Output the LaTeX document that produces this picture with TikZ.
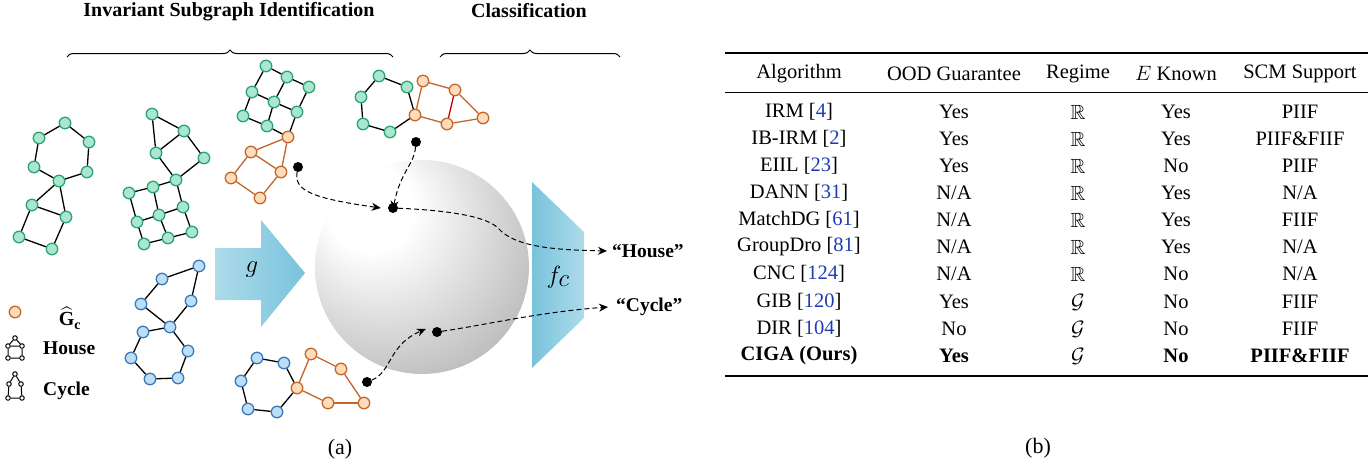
\documentclass[tikz,border=0pt]{standalone}
\usepackage{amssymb}
\usepackage{fontspec}
\setmainfont{Liberation Serif}
\usetikzlibrary{decorations.pathreplacing,arrows.meta}
\definecolor{gfill}{RGB}{170,232,205}\definecolor{gdraw}{RGB}{40,160,120}
\definecolor{ofill}{RGB}{253,220,185}\definecolor{odraw}{RGB}{195,100,40}
\definecolor{bfill}{RGB}{190,222,245}\definecolor{bdraw}{RGB}{55,120,185}
\definecolor{arr}{RGB}{120,195,220}\definecolor{cite}{RGB}{30,60,180}
\pgfdeclareradialshading{mysph}{\pgfpoint{-14bp}{16bp}}{color(0bp)=(white); color(10bp)=(white); color(35bp)=(black!25); color(58bp)=(black!70); color(70bp)=(black!70)}
\tikzset{
 gv/.style={circle,inner sep=0,minimum size=11.5,line width=1.3,draw=gdraw,fill=gfill},
 ov/.style={gv,draw=odraw,fill=ofill},
 bv/.style={gv,draw=bdraw,fill=bfill},
 ge/.style={line width=1.3,black},
 oe/.style={line width=1.3,odraw},
 dot/.style={circle,fill=black,inner sep=0,minimum size=10},
 da/.style={line width=1,-{Stealth[length=9,width=8]},dash pattern=on 5pt off 3pt},
 tx/.style={font=\fontsize{20.5}{23}\selectfont,inner sep=0},
 tb/.style={font=\fontsize{20.5}{23}\selectfont\bfseries,inner sep=0},
 bl/.style={font=\fontsize{19.5}{22}\selectfont\bfseries,inner sep=0},
 iv/.style={circle,draw,line width=1,inner sep=0,minimum size=4.5,fill=white}
}
\begin{document}
\begin{tikzpicture}[x=1pt,y=-1pt]
\useasboundingbox (0,0) rectangle (1370,463);
% titles and braces
\node[inner sep=0,font=\fontsize{20}{22}\selectfont\bfseries] (t1) at (229,12) {Invariant Subgraph Identification};
\node[inner sep=0,font=\fontsize{20}{22}\selectfont\bfseries] (t2) at (529,11) {Classification};
\draw[line width=1,decorate,decoration={brace,amplitude=7}] (67,57) -- (393,57);
\draw[line width=1,decorate,decoration={brace,amplitude=7}] (440,57) -- (620,57);
% sphere
\node[circle,minimum size=214,shading=mysph] (sph) at (422,267) {};
% g arrow
\shade[left color=arr!60,right color=arr] (215,248) -- (261,248) -- (261,220) -- (305,273) -- (261,327) -- (261,300) -- (215,300) -- cycle;
\node[inner sep=0] (g) at (252,270) {\fontsize{40}{44}\selectfont$g$};
% fc
\shade[left color=arr,right color=arr!60] (532,182) -- (584,232) -- (584,318) -- (532,368) -- cycle;
\node[inner sep=0] (fc) at (558,277) {\fontsize{40}{44}\selectfont$f_c$};
% graph 1
\foreach \n/\p in {a1/{65,123},a2/{39,138},a3/{89,142},a4/{34,167},a5/{87,172},a6/{59,181},a7/{32,205},a8/{66,217},a9/{19,237},a10/{52,249}}
  \node[gv] (\n) at (\p) {};
\foreach \a/\b in {a1/a2,a1/a3,a2/a4,a3/a5,a4/a6,a5/a6,a6/a7,a6/a8,a7/a8,a7/a9,a9/a10,a10/a8}
  \draw[ge] (\a) -- (\b);
% graph 2
\foreach \n/\p in {b1/{152,114},b2/{184,131},b3/{156,153},b4/{204,158},b5/{176,180},b6/{153,187},b7/{129,193},b8/{183,207},b9/{159,215},b10/{137,222},b11/{192,232},b12/{168,238},b13/{144,244}}
  \node[gv] (\n) at (\p) {};
\foreach \a/\b in {b1/b2,b1/b3,b2/b3,b2/b4,b3/b5,b4/b5,b5/b6,b6/b7,b5/b8,b6/b9,b7/b10,b8/b9,b9/b10,b8/b11,b9/b12,b10/b13,b11/b12,b12/b13}
  \draw[ge] (\a) -- (\b);
% graph 3
\foreach \n/\p in {c1/{266,66},c2/{287,77},c3/{309,87},c4/{252,92},c5/{274,102},c6/{297,112},c7/{243,116},c8/{267,126}}
  \node[gv] (\n) at (\p) {};
\foreach \n/\p in {o1/{288,137},o2/{251,152},o3/{281,172},o4/{231,178},o5/{260,198}}
  \node[ov] (\n) at (\p) {};
\foreach \a/\b in {c1/c2,c2/c3,c1/c4,c2/c5,c3/c6,c4/c5,c5/c6,c4/c7,c5/c8,c6/o1,c7/c8,c8/o1}
  \draw[ge] (\a) -- (\b);
\foreach \a/\b in {o1/o2,o1/o3,o2/o3,o2/o4,o4/o5,o5/o3}
  \draw[oe] (\a) -- (\b);
% graph 4
\foreach \n/\p in {h1/{379,76},h2/{407,87},h3/{361,97},h4/{363,124},h5/{390,132}}
  \node[gv] (\n) at (\p) {};
\foreach \n/\p in {p1/{415,115},p2/{423,81},p3/{455,90},p4/{447,124},p5/{483,118}}
  \node[ov] (\n) at (\p) {};
\foreach \a/\b in {h1/h2,h1/h3,h3/h4,h4/h5,h5/p1,h2/p1}
  \draw[ge] (\a) -- (\b);
\foreach \a/\b in {p1/p2,p2/p3,p4/p1,p3/p5,p5/p4}
  \draw[oe] (\a) -- (\b);
\draw[line width=1.3,red!75!black] (p3) -- (p4);
% blue graph
\foreach \n/\p in {q1/{199,266},q2/{162,279},q3/{191,301},q4/{141,304},q5/{170,327},q6/{143,332},q7/{188,351},q8/{131,358},q9/{178,378},q10/{150,379}}
  \node[bv] (\n) at (\p) {};
\foreach \a/\b in {q1/q2,q2/q4,q4/q5,q1/q3,q3/q5,q5/q6,q6/q8,q8/q10,q10/q9,q9/q7,q7/q5}
  \draw[ge] (\a) -- (\b);
% bottom graph
\foreach \n/\p in {r1/{257,358},r2/{284,363},r3/{241,381},r4/{248,409},r5/{277,412}}
  \node[bv] (\n) at (\p) {};
\foreach \n/\p in {s1/{297,388},s2/{311,354},s3/{341,369},s4/{328,403},s5/{364,403}}
  \node[ov] (\n) at (\p) {};
\foreach \a/\b in {r1/r2,r1/r3,r3/r4,r4/r5,r5/s1,r2/s1}
  \draw[ge] (\a) -- (\b);
\foreach \a/\b in {s1/s2,s2/s3,s3/s5,s5/s4,s4/s1}
  \draw[oe] (\a) -- (\b);
% dots and dashed arrows
\node[dot] (d1) at (298,167) {};
\node[dot] (d2) at (416,142) {};
\node[dot] (d4) at (367,382) {};
\node[dot] (e1) at (393,208) {};
\node[dot] (e2) at (437,332) {};
\node[bl,anchor=west] (house) at (612,251) {“House”};
\node[bl,anchor=west] (cyc) at (616,307) {“Cycle”};
\draw[da] (d1) .. controls (294,190) and (310,198) .. ([xshift=-7]e1.west);
\draw[da] (d2) .. controls (414,165) and (400,172) .. ([yshift=-7]e1.north);
\draw[da] (e1) .. controls (440,210) and (485,215) .. (498,228) .. controls (515,248) and (560,250) .. ([xshift=-5]house.west);
\draw[da] (d4) .. controls (392,372) and (388,345) .. ([xshift=-6,yshift=3]e2.west);
\draw[da] (e2) .. controls (485,325) and (540,312) .. ([xshift=-8]cyc.west);
% legend
\node[ov] (lo) at (15,312) {};
\node[inner sep=0] (lg) at (70,318) {\fontsize{20}{22}\selectfont$\widehat{\mathbf{G}}_{\mathbf{c}}$};
\node[iv] (h1a) at (15,338) {};\node[iv] (h2a) at (8,346) {};\node[iv] (h3a) at (22,346) {};
\node[iv] (h4a) at (8,358) {};\node[iv] (h5a) at (22,358) {};
\draw[line width=1] (h1a)--(h2a)--(h3a)--(h1a) (h2a)--(h4a)--(h5a)--(h3a);
\node[iv] (k1) at (15,374) {};\node[iv] (k2) at (9,384) {};\node[iv] (k3) at (21,384) {};
\node[iv] (k4) at (8,398) {};\node[iv] (k5) at (22,398) {};
\draw[line width=1] (k1)--(k2)--(k4)--(k5)--(k3)--(k1);
\node[bl,anchor=west] (lh) at (43,348) {House};
\node[bl,anchor=west] (lc) at (43,391) {Cycle};
\node[inner sep=0] (la) at (340,449) {\fontsize{22}{24}\selectfont(a)};
\node[inner sep=0] (lb) at (1038,448) {\fontsize{22}{24}\selectfont(b)};
% table
\draw[line width=1.3] (725,53) -- (1368,53);
\draw[line width=0.8] (725,92) -- (1368,92);
\draw[line width=1.3] (725,376) -- (1368,376);
\node[tx] (c1) at (799,74) {Algorithm};
\node[tx] (c2) at (954,74) {OOD Guarantee};
\node[tx] (c3) at (1078,74) {Regime};
\node[tx] (c4) at (1176,74) {$E$ Known};
\node[tx] (c5) at (1300,74) {SCM Support};
\foreach \i/\y/\a/\o/\r/\k/\s in {
 1/112/{IRM [\textcolor{cite}{4}]}/Yes/{$\mathbb{R}$}/Yes/PIIF,
 2/139/{IB-IRM [\textcolor{cite}{2}]}/Yes/{$\mathbb{R}$}/Yes/{PIIF\&FIIF},
 3/166/{EIIL [\textcolor{cite}{23}]}/Yes/{$\mathbb{R}$}/No/PIIF,
 4/193/{DANN [\textcolor{cite}{31}]}/N\slash A/{$\mathbb{R}$}/Yes/N\slash A,
 5/220/{MatchDG [\textcolor{cite}{61}]}/N\slash A/{$\mathbb{R}$}/Yes/FIIF,
 6/247/{GroupDro [\textcolor{cite}{81}]}/N\slash A/{$\mathbb{R}$}/Yes/N\slash A,
 7/274/{CNC [\textcolor{cite}{124}]}/N\slash A/{$\mathbb{R}$}/No/N\slash A,
 8/302/{GIB [\textcolor{cite}{120}]}/Yes/{$\mathcal{G}$}/No/FIIF,
 9/329/{DIR [\textcolor{cite}{104}]}/No/{$\mathcal{G}$}/No/FIIF}{
 \node[tx] (ra\i) at (799,\y) {\a};
 \node[tx] (ro\i) at (954,\y) {\o};
 \node[tx] (rr\i) at (1078,\y) {\r};
 \node[tx] (rk\i) at (1176,\y) {\k};
 \node[tx] (rs\i) at (1300,\y) {\s};
}
\node[tb] (ra10) at (799,356) {CIGA (Ours)};
\node[tb] (ro10) at (954,356) {Yes};
\node[tx] (rr10) at (1078,356) {$\mathcal{G}$};
\node[tb] (rk10) at (1176,356) {No};
\node[tb] (rs10) at (1300,356) {PIIF\&FIIF};
\end{tikzpicture}
\end{document}
